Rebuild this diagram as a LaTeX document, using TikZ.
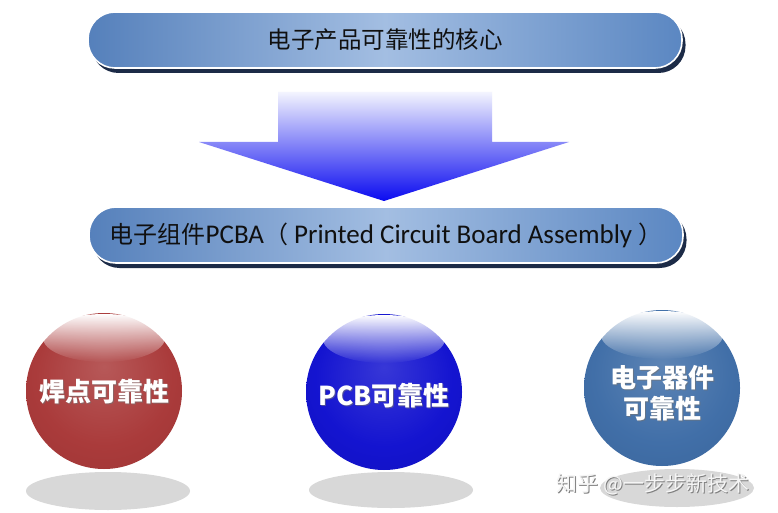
\documentclass[tikz,border=0pt]{standalone}
\usepackage{fontspec}
\setmainfont{Carlito}
\newfontfamily\cjk{Noto Sans CJK SC}
\usetikzlibrary{shadows,fadings}
\definecolor{bnL}{HTML}{5580BB}
\definecolor{bnM}{HTML}{A3BEE2}
\definecolor{bnR}{HTML}{5B87C2}
\definecolor{bnS}{HTML}{1C2B47}
\definecolor{arT}{HTML}{F3F4FE}
\definecolor{arM}{HTML}{B3B6F6}
\definecolor{arB}{HTML}{0A0AF0}
\definecolor{rdA}{HTML}{AA3B3B}
\definecolor{rdB}{HTML}{6A1A1A}
\definecolor{blA}{HTML}{1414D0}
\definecolor{blB}{HTML}{05057A}
\definecolor{stA}{HTML}{416FA8}
\definecolor{stB}{HTML}{1F3D66}
\definecolor{shd}{HTML}{D8D8D8}
\definecolor{txt}{HTML}{101010}
\pgfdeclareradialshading{sphred}{\pgfpoint{0bp}{8bp}}{color(0bp)=(rdA!85!white); color(22bp)=(rdA); color(42bp)=(rdA!75!rdB); color(50bp)=(rdB)}
\pgfdeclareradialshading{sphblue}{\pgfpoint{0bp}{8bp}}{color(0bp)=(blA!85!white); color(22bp)=(blA); color(42bp)=(blA!75!blB); color(50bp)=(blB)}
\pgfdeclareradialshading{sphsteel}{\pgfpoint{0bp}{8bp}}{color(0bp)=(stA!85!white); color(22bp)=(stA); color(42bp)=(stA!75!stB); color(50bp)=(stB)}
\tikzfading[name=hlfade, top color=transparent!0, bottom color=transparent!100]
\begin{document}
\begin{tikzpicture}[x=1pt,y=-1pt,
  banner/.style={draw=white, line width=1.6pt, rounded corners=27pt,
    left color=bnL, right color=bnR, middle color=bnM,
    minimum width=594pt, minimum height=56pt, inner sep=0pt,
    drop shadow={fill=bnS, opacity=1, shadow xshift=3.5pt, shadow yshift=-5pt}},
  sphere/.style={circle, minimum size=156pt, inner sep=0pt},
  hilite/.style={fill=white, path fading=hlfade, fill opacity=1},
  floor/.style={fill=shd},
  balltext/.style={text=white, font=\cjk\bfseries\fontsize{26}{31}\selectfont, align=center},
  balltextshadow/.style={text=black!55, text opacity=0.6, font=\cjk\bfseries\fontsize{26}{31}\selectfont, align=center},
  wmfont/.style={font=\cjk\fontsize{21}{24}\selectfont},
]
\useasboundingbox (0,0) rectangle (778,513);
\fill[white] (0,0) rectangle (778,513);

% banners
\node[banner] (core) at (385,40)
  {\color{txt}\cjk\fontsize{23.5}{26}\selectfont 电子产品可靠性的核心};
\node[banner] (pcba) at (386,235)
  {\color{txt}{\cjk\fontsize{24}{28}\selectfont 电子组件}{\fontsize{27}{30}\selectfont PCBA}{\cjk\fontsize{24}{28}\selectfont （}{\fontsize{27}{30}\selectfont\ Printed Circuit Board Assembly\ }{\cjk\fontsize{24}{28}\selectfont ）}};

% block arrow
\shade[top color=arT, middle color=arM, bottom color=arB]
  (278,92) -- (492,92) -- (492,142) -- (569,142) -- (384,201) -- (199,142) -- (278,142) -- cycle;

% floor shadows
\fill[floor] (108,491) ellipse [x radius=82pt, y radius=19pt];
\fill[floor] (391,490) ellipse [x radius=82pt, y radius=18pt];
\fill[floor] (677,488) ellipse [x radius=77pt, y radius=19pt];

% spheres
\node[sphere, shading=sphred] (s1) at (104,391) {};
\node[sphere, shading=sphblue] (s2) at (384,392) {};
\node[sphere, shading=sphsteel] (s3) at (662,388) {};
\fill[hilite] ([yshift=53pt]s1.center) ellipse [x radius=61pt, y radius=24pt];
\fill[hilite] ([yshift=53pt]s2.center) ellipse [x radius=61pt, y radius=24pt];
\fill[hilite] ([yshift=53pt]s3.center) ellipse [x radius=61pt, y radius=24pt];

\node[balltextshadow] (t1s) at ([xshift=1pt,yshift=-2pt]s1.center) {焊点可靠性};
\node[balltext] (t1) at ([yshift=-1pt]s1.center) {焊点可靠性};
\node[balltextshadow] (t2s) at ([xshift=1pt,yshift=-5pt]s2.center) {PCB可靠性};
\node[balltext] (t2) at ([yshift=-4pt]s2.center) {PCB可靠性};
\node[balltextshadow] (t3s) at ([xshift=1pt,yshift=-6pt]s3.center) {电子器件\\可靠性};
\node[balltext] (t3) at ([yshift=-5pt]s3.center) {电子器件\\可靠性};

% watermark
\node[wmfont, text=black!50] (wms) at (654.2,485.2) {知乎 @一步步新技术};
\node[wmfont, text=black!4] (wm) at (653,484) {知乎 @一步步新技术};
\end{tikzpicture}
\end{document}
